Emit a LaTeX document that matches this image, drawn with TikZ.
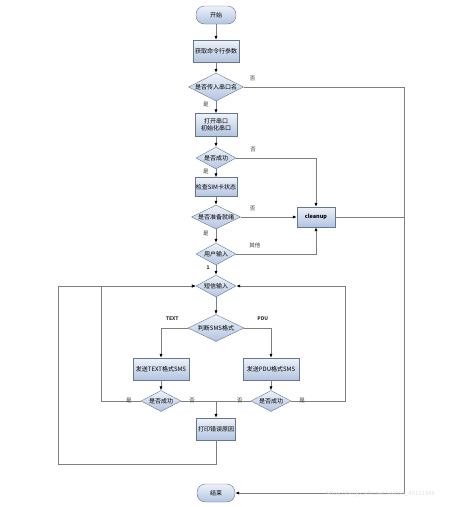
\documentclass[tikz,border=0pt]{standalone}
\usepackage{fontspec}
\setmainfont{Noto Sans CJK SC}
\usetikzlibrary{arrows.meta, positioning, shapes.geometric}
\definecolor{boxtop}{HTML}{EEF2F9}
\definecolor{boxbot}{HTML}{B3C4E0}
\definecolor{boxline}{HTML}{66788F}
\definecolor{wire}{HTML}{7F7F7F}

\begin{document}
\begin{tikzpicture}[
    x=1pt, y=1pt, on grid,
    font          = \fontsize{6}{7}\selectfont,
    base/.style   = {draw=boxline, top color=boxtop, bottom color=boxbot,
                     inner sep=1pt, align=center},
    term/.style   = {base, rectangle, rounded corners=8.5pt,
                     minimum width=40pt, minimum height=18pt},
    proc/.style   = {base, rectangle, minimum width=40pt, minimum height=21pt},
    dec/.style    = {base, diamond, aspect=2, inner sep=0pt,
                     minimum width=40pt, minimum height=22pt},
    line/.style   = {wire, line width=0.7pt},
    arr/.style    = {line, -{Latex[length=4pt, width=3.2pt, color=black]}},
    lbl/.style    = {font=\fontsize{5.5}{6}\selectfont, text=black!80, inner sep=1pt},
    blbl/.style   = {lbl, font=\fontsize{5}{6}\selectfont\bfseries},
  ]
  \useasboundingbox (0,0) rectangle (474,-507);
  % main column
  \node[term] (start) at (216,-15) {开始};
  \node[proc, below=36pt of start, minimum width=46pt, minimum height=22pt] (args) {获取命令行参数};
  \node[dec, below=36pt of args, minimum width=55pt, minimum height=28pt] (d1) {是否传入串口名};
  \node[proc, below=38pt of d1, minimum width=42pt, minimum height=23pt] (open) {打开串口\\初始化串口};
  \node[dec, below=33pt of open] (d2) {是否成功};
  \node[proc, below=29pt of d2, minimum width=40pt, minimum height=19pt] (check) {检查SIM卡状态};
  \node[dec, below=30pt of check, minimum width=49pt, minimum height=24pt] (d3) {是否准备就绪};
  \node[proc, right=100pt of d3, minimum width=38pt, minimum height=20pt,
        font=\fontsize{5.5}{6}\selectfont\bfseries] (cleanup) {cleanup};
  \node[dec, below=37pt of d3] (input) {用户输入};
  \node[dec, below=32pt of input] (sms) {短信输入};
  \node[dec, below=42pt of sms, minimum width=56pt, minimum height=27pt] (fmt) {判断SMS格式};
  \node[proc, below left=41pt and 55pt of fmt, minimum width=56pt, minimum height=22pt] (sendT) {发送TEXT格式SMS};
  \node[proc, below right=41pt and 55pt of fmt, minimum width=56pt, minimum height=22pt] (sendP) {发送PDU格式SMS};
  \node[dec, below=32pt of sendT, minimum height=21pt] (okT) {是否成功};
  \node[dec, below=32pt of sendP, minimum height=21pt] (okP) {是否成功};
  \node[proc, below=101pt of fmt, minimum width=39pt, minimum height=22pt] (err) {打印错误原因};
  \node[term, below=64pt of err, minimum width=38pt] (stop) {结束};
  % turning points
  \coordinate[right=188pt of d1] (rx);
  \coordinate[left=115pt of sms] (lin);
  \coordinate[right=129pt of sms] (rin);
  \coordinate[below left=35pt and 158pt of err] (lbot);

  \draw[arr] (start) -- (args);
  \draw[arr] (args) -- (d1);
  \draw[arr] (d1) -- (open) node[lbl, pos=0.3, left=6pt] {是};
  \draw[arr] (d1.east) -- (d1.east -| rx) |- (stop.east);
  \node[lbl, above right=5pt and 5pt of d1.east] (no1) {否};
  \draw[arr] (open) -- (d2);
  \draw[arr] (d2.east) -| (cleanup.north);
  \node[lbl, above right=5pt and 13pt of d2.east] (no2) {否};
  \draw[arr] (d2) -- (check) node[lbl, pos=0.3, left=6pt] {是};
  \draw[arr] (check) -- (d3);
  \draw[arr] (d3.east) -- (cleanup.west);
  \node[lbl, above right=5pt and 8pt of d3.east] (no3) {否};
  \draw[line] (cleanup.east) -- (cleanup.east -| rx);
  \draw[arr] (d3) -- (input) node[lbl, pos=0.35, left=6pt] {是};
  \draw[arr] (input.east) -| (cleanup.south);
  \node[lbl, above right=5pt and 12pt of input.east] (other) {其他};
  \draw[arr] (input) -- (sms) node[blbl, pos=0.3, left=5pt] {1};
  \draw[arr] (sms) -- (fmt);
  % format branches
  \draw[arr] (fmt.west) -| (sendT.north);
  \node[blbl, above left=6pt and 8pt of fmt.west] (txt) {TEXT};
  \draw[arr] (fmt.east) -| (sendP.north);
  \node[blbl, above right=6pt and 12pt of fmt.east] (pdu) {PDU};
  \draw[arr] (sendT) -- (okT);
  \draw[arr] (sendP) -- (okP);
  % loops back to the input
  \draw[arr] (okT.west) -| (lin) -- (sms.west);
  \node[lbl, left=8pt of okT.west] (yesT) {是};
  \draw[arr] (okP.east) -| (rin) -- (sms.east);
  \node[lbl, right=7pt of okP.east] (yesP) {是};
  \draw[line] (okT.east) -- (okP.west);
  \node[lbl, right=7pt of okT.east] (noT) {否};
  \node[lbl, left=7pt of okP.west] (noP) {否};
  \draw[arr] (okT.east -| err) -- (err.north);
  \draw[arr] (err.south) |- (lbot) |- (sms.west);
  \node[font=\fontsize{6}{7}\selectfont, text=black!12, anchor=west] (mark) at (322,-494) {https://blog.csdn.net/weixin\_45121946};
\end{tikzpicture}
\end{document}
